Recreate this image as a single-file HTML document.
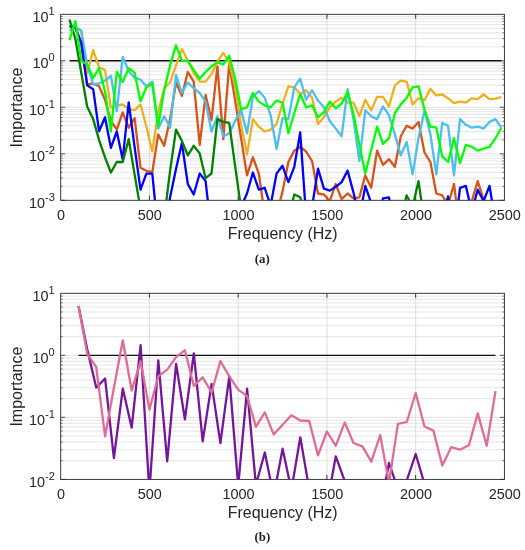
<!DOCTYPE html>
<html lang="en"><head><meta charset="utf-8"><title>Importance vs Frequency</title>
<style>html,body{margin:0;padding:0;background:#fff}svg{display:block}</style></head>
<body>
<svg width="525" height="550" viewBox="0 0 525 550" style="display:block">
<rect width="525" height="550" fill="#fff"/>
<defs><clipPath id="ca"><rect x="60.7" y="14.3" width="443.7" height="186.0"/></clipPath><clipPath id="cb"><rect x="60.7" y="293.3" width="443.7" height="186.1"/></clipPath></defs>
<g font-family="Liberation Sans, Arial, Helvetica, sans-serif">
<line x1="60.7" x2="504.4" y1="46.80" y2="46.80" stroke="#e2e2e2" stroke-width="0.9"/>
<line x1="60.7" x2="504.4" y1="38.61" y2="38.61" stroke="#e2e2e2" stroke-width="0.9"/>
<line x1="60.7" x2="504.4" y1="32.80" y2="32.80" stroke="#e2e2e2" stroke-width="0.9"/>
<line x1="60.7" x2="504.4" y1="28.30" y2="28.30" stroke="#e2e2e2" stroke-width="0.9"/>
<line x1="60.7" x2="504.4" y1="24.62" y2="24.62" stroke="#e2e2e2" stroke-width="0.9"/>
<line x1="60.7" x2="504.4" y1="21.50" y2="21.50" stroke="#e2e2e2" stroke-width="0.9"/>
<line x1="60.7" x2="504.4" y1="18.81" y2="18.81" stroke="#e2e2e2" stroke-width="0.9"/>
<line x1="60.7" x2="504.4" y1="16.43" y2="16.43" stroke="#e2e2e2" stroke-width="0.9"/>
<line x1="60.7" x2="504.4" y1="93.30" y2="93.30" stroke="#e2e2e2" stroke-width="0.9"/>
<line x1="60.7" x2="504.4" y1="85.11" y2="85.11" stroke="#e2e2e2" stroke-width="0.9"/>
<line x1="60.7" x2="504.4" y1="79.30" y2="79.30" stroke="#e2e2e2" stroke-width="0.9"/>
<line x1="60.7" x2="504.4" y1="74.80" y2="74.80" stroke="#e2e2e2" stroke-width="0.9"/>
<line x1="60.7" x2="504.4" y1="71.12" y2="71.12" stroke="#e2e2e2" stroke-width="0.9"/>
<line x1="60.7" x2="504.4" y1="68.00" y2="68.00" stroke="#e2e2e2" stroke-width="0.9"/>
<line x1="60.7" x2="504.4" y1="65.31" y2="65.31" stroke="#e2e2e2" stroke-width="0.9"/>
<line x1="60.7" x2="504.4" y1="62.93" y2="62.93" stroke="#e2e2e2" stroke-width="0.9"/>
<line x1="60.7" x2="504.4" y1="139.80" y2="139.80" stroke="#e2e2e2" stroke-width="0.9"/>
<line x1="60.7" x2="504.4" y1="131.61" y2="131.61" stroke="#e2e2e2" stroke-width="0.9"/>
<line x1="60.7" x2="504.4" y1="125.80" y2="125.80" stroke="#e2e2e2" stroke-width="0.9"/>
<line x1="60.7" x2="504.4" y1="121.30" y2="121.30" stroke="#e2e2e2" stroke-width="0.9"/>
<line x1="60.7" x2="504.4" y1="117.62" y2="117.62" stroke="#e2e2e2" stroke-width="0.9"/>
<line x1="60.7" x2="504.4" y1="114.50" y2="114.50" stroke="#e2e2e2" stroke-width="0.9"/>
<line x1="60.7" x2="504.4" y1="111.81" y2="111.81" stroke="#e2e2e2" stroke-width="0.9"/>
<line x1="60.7" x2="504.4" y1="109.43" y2="109.43" stroke="#e2e2e2" stroke-width="0.9"/>
<line x1="60.7" x2="504.4" y1="186.30" y2="186.30" stroke="#e2e2e2" stroke-width="0.9"/>
<line x1="60.7" x2="504.4" y1="178.11" y2="178.11" stroke="#e2e2e2" stroke-width="0.9"/>
<line x1="60.7" x2="504.4" y1="172.30" y2="172.30" stroke="#e2e2e2" stroke-width="0.9"/>
<line x1="60.7" x2="504.4" y1="167.80" y2="167.80" stroke="#e2e2e2" stroke-width="0.9"/>
<line x1="60.7" x2="504.4" y1="164.12" y2="164.12" stroke="#e2e2e2" stroke-width="0.9"/>
<line x1="60.7" x2="504.4" y1="161.00" y2="161.00" stroke="#e2e2e2" stroke-width="0.9"/>
<line x1="60.7" x2="504.4" y1="158.31" y2="158.31" stroke="#e2e2e2" stroke-width="0.9"/>
<line x1="60.7" x2="504.4" y1="155.93" y2="155.93" stroke="#e2e2e2" stroke-width="0.9"/>
<line x1="60.7" x2="504.4" y1="60.80" y2="60.80" stroke="#dcdcdc" stroke-width="0.9"/>
<line x1="60.7" x2="504.4" y1="107.30" y2="107.30" stroke="#dcdcdc" stroke-width="0.9"/>
<line x1="60.7" x2="504.4" y1="153.80" y2="153.80" stroke="#dcdcdc" stroke-width="0.9"/>
<line x1="149.44" x2="149.44" y1="14.3" y2="200.3" stroke="#d9d9d9" stroke-width="0.9"/>
<line x1="238.18" x2="238.18" y1="14.3" y2="200.3" stroke="#d9d9d9" stroke-width="0.9"/>
<line x1="326.92" x2="326.92" y1="14.3" y2="200.3" stroke="#d9d9d9" stroke-width="0.9"/>
<line x1="415.66" x2="415.66" y1="14.3" y2="200.3" stroke="#d9d9d9" stroke-width="0.9"/>
<rect x="60.7" y="14.3" width="443.7" height="186.0" fill="none" stroke="#262626" stroke-width="0.9"/>
<line x1="149.44" x2="149.44" y1="14.3" y2="18.8" stroke="#262626" stroke-width="0.9"/>
<line x1="149.44" x2="149.44" y1="200.3" y2="195.8" stroke="#262626" stroke-width="0.9"/>
<line x1="238.18" x2="238.18" y1="14.3" y2="18.8" stroke="#262626" stroke-width="0.9"/>
<line x1="238.18" x2="238.18" y1="200.3" y2="195.8" stroke="#262626" stroke-width="0.9"/>
<line x1="326.92" x2="326.92" y1="14.3" y2="18.8" stroke="#262626" stroke-width="0.9"/>
<line x1="326.92" x2="326.92" y1="200.3" y2="195.8" stroke="#262626" stroke-width="0.9"/>
<line x1="415.66" x2="415.66" y1="14.3" y2="18.8" stroke="#262626" stroke-width="0.9"/>
<line x1="415.66" x2="415.66" y1="200.3" y2="195.8" stroke="#262626" stroke-width="0.9"/>
<line x1="60.7" x2="65.2" y1="60.80" y2="60.80" stroke="#262626" stroke-width="0.75"/>
<line x1="504.4" x2="499.9" y1="60.80" y2="60.80" stroke="#262626" stroke-width="0.75"/>
<line x1="60.7" x2="62.6" y1="46.80" y2="46.80" stroke="#4a4a4a" stroke-width="0.75"/>
<line x1="504.4" x2="502.5" y1="46.80" y2="46.80" stroke="#4a4a4a" stroke-width="0.75"/>
<line x1="60.7" x2="62.6" y1="38.61" y2="38.61" stroke="#4a4a4a" stroke-width="0.75"/>
<line x1="504.4" x2="502.5" y1="38.61" y2="38.61" stroke="#4a4a4a" stroke-width="0.75"/>
<line x1="60.7" x2="62.6" y1="32.80" y2="32.80" stroke="#4a4a4a" stroke-width="0.75"/>
<line x1="504.4" x2="502.5" y1="32.80" y2="32.80" stroke="#4a4a4a" stroke-width="0.75"/>
<line x1="60.7" x2="62.6" y1="28.30" y2="28.30" stroke="#4a4a4a" stroke-width="0.75"/>
<line x1="504.4" x2="502.5" y1="28.30" y2="28.30" stroke="#4a4a4a" stroke-width="0.75"/>
<line x1="60.7" x2="62.6" y1="24.62" y2="24.62" stroke="#4a4a4a" stroke-width="0.75"/>
<line x1="504.4" x2="502.5" y1="24.62" y2="24.62" stroke="#4a4a4a" stroke-width="0.75"/>
<line x1="60.7" x2="62.6" y1="21.50" y2="21.50" stroke="#4a4a4a" stroke-width="0.75"/>
<line x1="504.4" x2="502.5" y1="21.50" y2="21.50" stroke="#4a4a4a" stroke-width="0.75"/>
<line x1="60.7" x2="62.6" y1="18.81" y2="18.81" stroke="#4a4a4a" stroke-width="0.75"/>
<line x1="504.4" x2="502.5" y1="18.81" y2="18.81" stroke="#4a4a4a" stroke-width="0.75"/>
<line x1="60.7" x2="62.6" y1="16.43" y2="16.43" stroke="#4a4a4a" stroke-width="0.75"/>
<line x1="504.4" x2="502.5" y1="16.43" y2="16.43" stroke="#4a4a4a" stroke-width="0.75"/>
<line x1="60.7" x2="65.2" y1="107.30" y2="107.30" stroke="#262626" stroke-width="0.75"/>
<line x1="504.4" x2="499.9" y1="107.30" y2="107.30" stroke="#262626" stroke-width="0.75"/>
<line x1="60.7" x2="62.6" y1="93.30" y2="93.30" stroke="#4a4a4a" stroke-width="0.75"/>
<line x1="504.4" x2="502.5" y1="93.30" y2="93.30" stroke="#4a4a4a" stroke-width="0.75"/>
<line x1="60.7" x2="62.6" y1="85.11" y2="85.11" stroke="#4a4a4a" stroke-width="0.75"/>
<line x1="504.4" x2="502.5" y1="85.11" y2="85.11" stroke="#4a4a4a" stroke-width="0.75"/>
<line x1="60.7" x2="62.6" y1="79.30" y2="79.30" stroke="#4a4a4a" stroke-width="0.75"/>
<line x1="504.4" x2="502.5" y1="79.30" y2="79.30" stroke="#4a4a4a" stroke-width="0.75"/>
<line x1="60.7" x2="62.6" y1="74.80" y2="74.80" stroke="#4a4a4a" stroke-width="0.75"/>
<line x1="504.4" x2="502.5" y1="74.80" y2="74.80" stroke="#4a4a4a" stroke-width="0.75"/>
<line x1="60.7" x2="62.6" y1="71.12" y2="71.12" stroke="#4a4a4a" stroke-width="0.75"/>
<line x1="504.4" x2="502.5" y1="71.12" y2="71.12" stroke="#4a4a4a" stroke-width="0.75"/>
<line x1="60.7" x2="62.6" y1="68.00" y2="68.00" stroke="#4a4a4a" stroke-width="0.75"/>
<line x1="504.4" x2="502.5" y1="68.00" y2="68.00" stroke="#4a4a4a" stroke-width="0.75"/>
<line x1="60.7" x2="62.6" y1="65.31" y2="65.31" stroke="#4a4a4a" stroke-width="0.75"/>
<line x1="504.4" x2="502.5" y1="65.31" y2="65.31" stroke="#4a4a4a" stroke-width="0.75"/>
<line x1="60.7" x2="62.6" y1="62.93" y2="62.93" stroke="#4a4a4a" stroke-width="0.75"/>
<line x1="504.4" x2="502.5" y1="62.93" y2="62.93" stroke="#4a4a4a" stroke-width="0.75"/>
<line x1="60.7" x2="65.2" y1="153.80" y2="153.80" stroke="#262626" stroke-width="0.75"/>
<line x1="504.4" x2="499.9" y1="153.80" y2="153.80" stroke="#262626" stroke-width="0.75"/>
<line x1="60.7" x2="62.6" y1="139.80" y2="139.80" stroke="#4a4a4a" stroke-width="0.75"/>
<line x1="504.4" x2="502.5" y1="139.80" y2="139.80" stroke="#4a4a4a" stroke-width="0.75"/>
<line x1="60.7" x2="62.6" y1="131.61" y2="131.61" stroke="#4a4a4a" stroke-width="0.75"/>
<line x1="504.4" x2="502.5" y1="131.61" y2="131.61" stroke="#4a4a4a" stroke-width="0.75"/>
<line x1="60.7" x2="62.6" y1="125.80" y2="125.80" stroke="#4a4a4a" stroke-width="0.75"/>
<line x1="504.4" x2="502.5" y1="125.80" y2="125.80" stroke="#4a4a4a" stroke-width="0.75"/>
<line x1="60.7" x2="62.6" y1="121.30" y2="121.30" stroke="#4a4a4a" stroke-width="0.75"/>
<line x1="504.4" x2="502.5" y1="121.30" y2="121.30" stroke="#4a4a4a" stroke-width="0.75"/>
<line x1="60.7" x2="62.6" y1="117.62" y2="117.62" stroke="#4a4a4a" stroke-width="0.75"/>
<line x1="504.4" x2="502.5" y1="117.62" y2="117.62" stroke="#4a4a4a" stroke-width="0.75"/>
<line x1="60.7" x2="62.6" y1="114.50" y2="114.50" stroke="#4a4a4a" stroke-width="0.75"/>
<line x1="504.4" x2="502.5" y1="114.50" y2="114.50" stroke="#4a4a4a" stroke-width="0.75"/>
<line x1="60.7" x2="62.6" y1="111.81" y2="111.81" stroke="#4a4a4a" stroke-width="0.75"/>
<line x1="504.4" x2="502.5" y1="111.81" y2="111.81" stroke="#4a4a4a" stroke-width="0.75"/>
<line x1="60.7" x2="62.6" y1="109.43" y2="109.43" stroke="#4a4a4a" stroke-width="0.75"/>
<line x1="504.4" x2="502.5" y1="109.43" y2="109.43" stroke="#4a4a4a" stroke-width="0.75"/>
<line x1="60.7" x2="65.2" y1="200.30" y2="200.30" stroke="#262626" stroke-width="0.75"/>
<line x1="504.4" x2="499.9" y1="200.30" y2="200.30" stroke="#262626" stroke-width="0.75"/>
<line x1="60.7" x2="62.6" y1="186.30" y2="186.30" stroke="#4a4a4a" stroke-width="0.75"/>
<line x1="504.4" x2="502.5" y1="186.30" y2="186.30" stroke="#4a4a4a" stroke-width="0.75"/>
<line x1="60.7" x2="62.6" y1="178.11" y2="178.11" stroke="#4a4a4a" stroke-width="0.75"/>
<line x1="504.4" x2="502.5" y1="178.11" y2="178.11" stroke="#4a4a4a" stroke-width="0.75"/>
<line x1="60.7" x2="62.6" y1="172.30" y2="172.30" stroke="#4a4a4a" stroke-width="0.75"/>
<line x1="504.4" x2="502.5" y1="172.30" y2="172.30" stroke="#4a4a4a" stroke-width="0.75"/>
<line x1="60.7" x2="62.6" y1="167.80" y2="167.80" stroke="#4a4a4a" stroke-width="0.75"/>
<line x1="504.4" x2="502.5" y1="167.80" y2="167.80" stroke="#4a4a4a" stroke-width="0.75"/>
<line x1="60.7" x2="62.6" y1="164.12" y2="164.12" stroke="#4a4a4a" stroke-width="0.75"/>
<line x1="504.4" x2="502.5" y1="164.12" y2="164.12" stroke="#4a4a4a" stroke-width="0.75"/>
<line x1="60.7" x2="62.6" y1="161.00" y2="161.00" stroke="#4a4a4a" stroke-width="0.75"/>
<line x1="504.4" x2="502.5" y1="161.00" y2="161.00" stroke="#4a4a4a" stroke-width="0.75"/>
<line x1="60.7" x2="62.6" y1="158.31" y2="158.31" stroke="#4a4a4a" stroke-width="0.75"/>
<line x1="504.4" x2="502.5" y1="158.31" y2="158.31" stroke="#4a4a4a" stroke-width="0.75"/>
<line x1="60.7" x2="62.6" y1="155.93" y2="155.93" stroke="#4a4a4a" stroke-width="0.75"/>
<line x1="504.4" x2="502.5" y1="155.93" y2="155.93" stroke="#4a4a4a" stroke-width="0.75"/>
<text x="54.6" y="21.60" text-anchor="end" font-size="14.45" fill="#262626">10<tspan dy="-7.1" font-size="11">1</tspan></text>
<text x="54.6" y="68.10" text-anchor="end" font-size="14.45" fill="#262626">10<tspan dy="-7.1" font-size="11">0</tspan></text>
<text x="54.9" y="114.60" text-anchor="end" font-size="14.45" fill="#262626">10<tspan dy="-7.1" font-size="11.2">-1</tspan></text>
<text x="54.9" y="161.10" text-anchor="end" font-size="14.45" fill="#262626">10<tspan dy="-7.1" font-size="11.2">-2</tspan></text>
<text x="54.9" y="207.60" text-anchor="end" font-size="14.45" fill="#262626">10<tspan dy="-7.1" font-size="11.2">-3</tspan></text>
<text x="61.0" y="219.7" text-anchor="middle" font-size="14.45" fill="#262626">0</text>
<text x="149.7" y="219.7" text-anchor="middle" font-size="14.45" fill="#262626">500</text>
<text x="238.5" y="219.7" text-anchor="middle" font-size="14.45" fill="#262626">1000</text>
<text x="327.2" y="219.7" text-anchor="middle" font-size="14.45" fill="#262626">1500</text>
<text x="416.0" y="219.7" text-anchor="middle" font-size="14.45" fill="#262626">2000</text>
<text x="504.7" y="219.7" text-anchor="middle" font-size="14.45" fill="#262626">2500</text>
<text x="227.8" y="238.8" textLength="109.8" lengthAdjust="spacingAndGlyphs" font-size="15.9" fill="#262626">Frequency (Hz)</text>
<text transform="translate(21.9,147.5) rotate(-90)" textLength="80" lengthAdjust="spacingAndGlyphs" font-size="15.9" fill="#262626">Importance</text>
<g clip-path="url(#ca)" fill="none" stroke-linejoin="round" stroke-linecap="butt" stroke-width="2.30">
<line x1="69.5" x2="501.4" y1="60.80" y2="60.80" stroke="#111" stroke-width="1.4"/>
<polyline stroke="#d95319" points="69.5,26.1 75.4,27.5 81.3,43.0 87.2,84.5 93.2,83.5 99.1,86.3 105.0,99.7 110.9,121.0 116.8,129.6 122.7,112.4 128.7,127.7 134.6,118.1 140.5,167.7 146.4,170.8 152.3,172.2 158.2,134.4 164.2,145.8 170.1,119.1 176.0,82.5 181.9,95.9 187.8,72.0 193.7,81.6 199.7,144.8 205.6,94.9 211.5,120.0 217.4,66.3 223.3,139.1 229.2,64.4 235.1,100.0 241.1,138.2 247.0,175.4 252.9,157.3 258.8,173.5 264.7,214.5 270.6,222.1 276.6,214.5 282.5,191.6 288.4,162.0 294.3,150.6 300.2,146.8 306.1,151.5 312.1,161.1 318.0,193.5 323.9,194.5 329.8,201.1 335.7,184.0 341.6,199.2 347.6,193.5 353.5,198.3 359.4,197.3 365.3,175.4 371.2,187.8 377.1,150.6 383.0,164.9 389.0,159.2 394.9,166.8 400.8,136.3 406.7,125.8 412.6,128.6 418.5,121.9 424.5,152.5 430.4,162.0 436.3,193.5 442.2,195.4 448.1,205.0 454.0,184.0 460.0,232.0 465.9,252.7 471.8,201.0 477.7,181.1 483.6,199.5 489.5,215.0 495.5,252.7 501.4,252.7"/>
<polyline stroke="#edb120" points="69.5,30.7 75.4,27.3 81.3,31.2 87.2,73.3 93.2,50.1 99.1,67.3 105.0,70.1 110.9,107.5 116.8,105.5 122.7,104.5 128.7,109.2 134.6,110.2 140.5,104.5 146.4,126.7 152.3,151.5 158.2,112.0 164.2,88.0 170.1,82.5 176.0,65.3 181.9,49.1 187.8,60.6 193.7,73.0 199.7,81.6 205.6,81.6 211.5,73.9 217.4,61.5 223.3,52.9 229.2,62.5 235.1,86.3 241.1,124.8 247.0,154.4 252.9,119.1 258.8,126.7 264.7,131.5 270.6,129.6 276.6,123.9 282.5,103.8 288.4,86.3 294.3,87.3 300.2,94.0 306.1,90.2 312.1,97.8 318.0,123.9 323.9,117.2 329.8,107.3 335.7,101.6 341.6,97.8 347.6,102.6 353.5,102.6 359.4,116.2 365.3,99.7 371.2,110.2 377.1,96.8 383.0,96.8 389.0,106.4 394.9,85.4 400.8,80.6 406.7,81.6 412.6,104.5 418.5,98.3 424.5,100.2 430.4,88.7 436.3,95.4 442.2,94.5 448.1,98.3 454.0,103.1 460.0,101.7 465.9,102.5 471.8,98.3 477.7,99.2 483.6,94.5 489.5,99.2 495.5,98.7 501.4,97.0"/>
<polyline stroke="#4dbeee" points="69.5,30.7 75.4,27.3 81.3,30.6 87.2,65.0 93.2,84.4 99.1,83.5 105.0,80.6 110.9,75.8 116.8,111.2 122.7,56.8 128.7,71.1 134.6,77.7 140.5,79.7 146.4,86.3 152.3,81.6 158.2,128.6 164.2,116.2 170.1,127.7 176.0,74.9 181.9,93.0 187.8,82.5 193.7,88.2 199.7,93.0 205.6,101.6 211.5,131.5 217.4,116.2 223.3,136.3 229.2,133.4 235.1,121.0 241.1,109.9 247.0,133.4 252.9,96.8 258.8,91.1 264.7,97.8 270.6,115.3 276.6,149.0 282.5,118.1 288.4,119.1 294.3,87.3 300.2,78.7 306.1,99.7 312.1,90.2 318.0,100.6 323.9,107.3 329.8,121.0 335.7,128.6 341.6,136.3 347.6,89.2 353.5,119.1 359.4,161.1 365.3,110.2 371.2,116.2 377.1,119.1 383.0,106.4 389.0,115.3 394.9,134.4 400.8,155.3 406.7,142.0 412.6,174.4 418.5,138.2 424.5,110.5 430.4,134.4 436.3,174.4 442.2,122.9 448.1,125.8 454.0,175.4 460.0,119.1 465.9,124.8 471.8,127.7 477.7,126.7 483.6,128.6 489.5,121.9 495.5,119.1 501.4,127.7"/>
<polyline stroke="#0000ff" points="69.5,26.1 75.4,27.5 81.3,43.0 87.2,85.4 93.2,89.2 99.1,131.3 105.0,117.2 110.9,147.8 116.8,131.5 122.7,159.5 128.7,102.3 134.6,146.8 140.5,189.7 146.4,173.6 152.3,173.6 158.2,233.6 164.2,233.6 170.1,197.3 176.0,169.1 181.9,142.9 187.8,184.0 193.7,194.5 199.7,173.5 205.6,181.1 211.5,233.6 217.4,252.7 223.3,252.7 229.2,252.7 235.1,233.6 241.1,206.9 247.0,193.5 252.9,172.5 258.8,189.7 264.7,187.8 270.6,205.5 276.6,173.5 282.5,165.8 288.4,182.1 294.3,166.8 300.2,132.4 306.1,216.4 312.1,206.9 318.0,168.7 323.9,188.7 329.8,190.6 335.7,186.8 341.6,182.1 347.6,170.6 353.5,192.6 359.4,218.3 365.3,185.9 371.2,203.1 377.1,240.0 383.0,198.3 389.0,197.3 394.9,240.0 400.8,252.7 406.7,252.7 412.6,252.7 418.5,252.7 424.5,252.7 430.4,252.7 436.3,252.7 442.2,218.3 448.1,196.4 454.0,240.0 460.0,187.8 465.9,185.9 471.8,212.0 477.7,189.7 483.6,201.1 489.5,185.9 495.5,222.1 501.4,252.7"/>
<polyline stroke="#008000" points="69.5,19.6 75.4,39.0 81.3,73.0 87.2,106.7 93.2,119.1 99.1,140.1 105.0,157.3 110.9,172.5 116.8,162.0 122.7,162.0 128.7,139.1 134.6,174.4 140.5,209.0 146.4,252.7 152.3,252.7 158.2,252.7 164.2,218.3 170.1,170.6 176.0,129.6 181.9,141.0 187.8,155.3 193.7,145.8 199.7,153.4 205.6,178.2 211.5,173.5 217.4,119.1 223.3,121.9 229.2,122.9 235.1,165.8 241.1,208.8 247.0,252.7 252.9,252.7 258.8,252.7 264.7,252.7 270.6,252.7 276.6,252.7 282.5,252.7 288.4,218.3 294.3,194.5 300.2,197.3 306.1,218.3 312.1,252.7 318.0,252.7 323.9,252.7 329.8,252.7 335.7,252.7 341.6,252.7 347.6,252.7 353.5,252.7 359.4,252.7 365.3,252.7 371.2,252.7 377.1,252.7 383.0,252.7 389.0,252.7 394.9,252.7 400.8,218.3 406.7,195.4 412.6,206.9 418.5,181.1 424.5,222.1 430.4,252.7 436.3,252.7 442.2,252.7 448.1,252.7 454.0,252.7 460.0,252.7 465.9,252.7 471.8,252.7 477.7,252.7 483.6,252.7 489.5,252.7 495.5,252.7 501.4,252.7"/>
<polyline stroke="#00ff00" points="69.5,40.2 75.4,21.1 81.3,60.8 87.2,64.6 93.2,78.0 99.1,68.0 105.0,91.5 110.9,131.5 116.8,72.0 122.7,82.1 128.7,68.2 134.6,72.6 140.5,101.2 146.4,87.3 152.3,83.5 158.2,125.8 164.2,90.2 170.1,65.3 176.0,45.3 181.9,60.6 187.8,60.6 193.7,70.1 199.7,78.7 205.6,72.0 211.5,66.3 217.4,62.5 223.3,64.4 229.2,55.8 235.1,78.7 241.1,109.2 247.0,107.3 252.9,93.0 258.8,101.6 264.7,105.4 270.6,107.3 276.6,100.6 282.5,102.6 288.4,133.2 294.3,113.0 300.2,94.0 306.1,107.3 312.1,105.4 318.0,117.2 323.9,112.4 329.8,101.6 335.7,108.3 341.6,103.5 347.6,92.1 353.5,114.3 359.4,144.8 365.3,173.5 371.2,150.0 377.1,126.7 383.0,143.9 389.0,138.2 394.9,113.0 400.8,104.6 406.7,97.8 412.6,87.3 418.5,86.3 424.5,109.5 430.4,126.7 436.3,127.7 442.2,156.3 448.1,162.0 454.0,138.2 460.0,163.0 465.9,144.8 471.8,146.8 477.7,150.6 483.6,148.7 489.5,146.8 495.5,138.2 501.4,127.7"/>
</g>
<line x1="60.7" x2="504.4" y1="336.66" y2="336.66" stroke="#e2e2e2" stroke-width="0.9"/>
<line x1="60.7" x2="504.4" y1="325.74" y2="325.74" stroke="#e2e2e2" stroke-width="0.9"/>
<line x1="60.7" x2="504.4" y1="317.99" y2="317.99" stroke="#e2e2e2" stroke-width="0.9"/>
<line x1="60.7" x2="504.4" y1="311.97" y2="311.97" stroke="#e2e2e2" stroke-width="0.9"/>
<line x1="60.7" x2="504.4" y1="307.06" y2="307.06" stroke="#e2e2e2" stroke-width="0.9"/>
<line x1="60.7" x2="504.4" y1="302.91" y2="302.91" stroke="#e2e2e2" stroke-width="0.9"/>
<line x1="60.7" x2="504.4" y1="299.31" y2="299.31" stroke="#e2e2e2" stroke-width="0.9"/>
<line x1="60.7" x2="504.4" y1="296.14" y2="296.14" stroke="#e2e2e2" stroke-width="0.9"/>
<line x1="60.7" x2="504.4" y1="398.69" y2="398.69" stroke="#e2e2e2" stroke-width="0.9"/>
<line x1="60.7" x2="504.4" y1="387.77" y2="387.77" stroke="#e2e2e2" stroke-width="0.9"/>
<line x1="60.7" x2="504.4" y1="380.02" y2="380.02" stroke="#e2e2e2" stroke-width="0.9"/>
<line x1="60.7" x2="504.4" y1="374.01" y2="374.01" stroke="#e2e2e2" stroke-width="0.9"/>
<line x1="60.7" x2="504.4" y1="369.10" y2="369.10" stroke="#e2e2e2" stroke-width="0.9"/>
<line x1="60.7" x2="504.4" y1="364.94" y2="364.94" stroke="#e2e2e2" stroke-width="0.9"/>
<line x1="60.7" x2="504.4" y1="361.34" y2="361.34" stroke="#e2e2e2" stroke-width="0.9"/>
<line x1="60.7" x2="504.4" y1="358.17" y2="358.17" stroke="#e2e2e2" stroke-width="0.9"/>
<line x1="60.7" x2="504.4" y1="460.73" y2="460.73" stroke="#e2e2e2" stroke-width="0.9"/>
<line x1="60.7" x2="504.4" y1="449.80" y2="449.80" stroke="#e2e2e2" stroke-width="0.9"/>
<line x1="60.7" x2="504.4" y1="442.05" y2="442.05" stroke="#e2e2e2" stroke-width="0.9"/>
<line x1="60.7" x2="504.4" y1="436.04" y2="436.04" stroke="#e2e2e2" stroke-width="0.9"/>
<line x1="60.7" x2="504.4" y1="431.13" y2="431.13" stroke="#e2e2e2" stroke-width="0.9"/>
<line x1="60.7" x2="504.4" y1="426.98" y2="426.98" stroke="#e2e2e2" stroke-width="0.9"/>
<line x1="60.7" x2="504.4" y1="423.38" y2="423.38" stroke="#e2e2e2" stroke-width="0.9"/>
<line x1="60.7" x2="504.4" y1="420.21" y2="420.21" stroke="#e2e2e2" stroke-width="0.9"/>
<line x1="60.7" x2="504.4" y1="355.33" y2="355.33" stroke="#dcdcdc" stroke-width="0.9"/>
<line x1="60.7" x2="504.4" y1="417.37" y2="417.37" stroke="#dcdcdc" stroke-width="0.9"/>
<line x1="149.44" x2="149.44" y1="293.3" y2="479.4" stroke="#d9d9d9" stroke-width="0.9"/>
<line x1="238.18" x2="238.18" y1="293.3" y2="479.4" stroke="#d9d9d9" stroke-width="0.9"/>
<line x1="326.92" x2="326.92" y1="293.3" y2="479.4" stroke="#d9d9d9" stroke-width="0.9"/>
<line x1="415.66" x2="415.66" y1="293.3" y2="479.4" stroke="#d9d9d9" stroke-width="0.9"/>
<rect x="60.7" y="293.3" width="443.7" height="186.1" fill="none" stroke="#262626" stroke-width="0.9"/>
<line x1="149.44" x2="149.44" y1="293.3" y2="297.8" stroke="#262626" stroke-width="0.9"/>
<line x1="149.44" x2="149.44" y1="479.4" y2="474.9" stroke="#262626" stroke-width="0.9"/>
<line x1="238.18" x2="238.18" y1="293.3" y2="297.8" stroke="#262626" stroke-width="0.9"/>
<line x1="238.18" x2="238.18" y1="479.4" y2="474.9" stroke="#262626" stroke-width="0.9"/>
<line x1="326.92" x2="326.92" y1="293.3" y2="297.8" stroke="#262626" stroke-width="0.9"/>
<line x1="326.92" x2="326.92" y1="479.4" y2="474.9" stroke="#262626" stroke-width="0.9"/>
<line x1="415.66" x2="415.66" y1="293.3" y2="297.8" stroke="#262626" stroke-width="0.9"/>
<line x1="415.66" x2="415.66" y1="479.4" y2="474.9" stroke="#262626" stroke-width="0.9"/>
<line x1="60.7" x2="65.2" y1="355.33" y2="355.33" stroke="#262626" stroke-width="0.75"/>
<line x1="504.4" x2="499.9" y1="355.33" y2="355.33" stroke="#262626" stroke-width="0.75"/>
<line x1="60.7" x2="62.6" y1="336.66" y2="336.66" stroke="#4a4a4a" stroke-width="0.75"/>
<line x1="504.4" x2="502.5" y1="336.66" y2="336.66" stroke="#4a4a4a" stroke-width="0.75"/>
<line x1="60.7" x2="62.6" y1="325.74" y2="325.74" stroke="#4a4a4a" stroke-width="0.75"/>
<line x1="504.4" x2="502.5" y1="325.74" y2="325.74" stroke="#4a4a4a" stroke-width="0.75"/>
<line x1="60.7" x2="62.6" y1="317.99" y2="317.99" stroke="#4a4a4a" stroke-width="0.75"/>
<line x1="504.4" x2="502.5" y1="317.99" y2="317.99" stroke="#4a4a4a" stroke-width="0.75"/>
<line x1="60.7" x2="62.6" y1="311.97" y2="311.97" stroke="#4a4a4a" stroke-width="0.75"/>
<line x1="504.4" x2="502.5" y1="311.97" y2="311.97" stroke="#4a4a4a" stroke-width="0.75"/>
<line x1="60.7" x2="62.6" y1="307.06" y2="307.06" stroke="#4a4a4a" stroke-width="0.75"/>
<line x1="504.4" x2="502.5" y1="307.06" y2="307.06" stroke="#4a4a4a" stroke-width="0.75"/>
<line x1="60.7" x2="62.6" y1="302.91" y2="302.91" stroke="#4a4a4a" stroke-width="0.75"/>
<line x1="504.4" x2="502.5" y1="302.91" y2="302.91" stroke="#4a4a4a" stroke-width="0.75"/>
<line x1="60.7" x2="62.6" y1="299.31" y2="299.31" stroke="#4a4a4a" stroke-width="0.75"/>
<line x1="504.4" x2="502.5" y1="299.31" y2="299.31" stroke="#4a4a4a" stroke-width="0.75"/>
<line x1="60.7" x2="62.6" y1="296.14" y2="296.14" stroke="#4a4a4a" stroke-width="0.75"/>
<line x1="504.4" x2="502.5" y1="296.14" y2="296.14" stroke="#4a4a4a" stroke-width="0.75"/>
<line x1="60.7" x2="65.2" y1="417.37" y2="417.37" stroke="#262626" stroke-width="0.75"/>
<line x1="504.4" x2="499.9" y1="417.37" y2="417.37" stroke="#262626" stroke-width="0.75"/>
<line x1="60.7" x2="62.6" y1="398.69" y2="398.69" stroke="#4a4a4a" stroke-width="0.75"/>
<line x1="504.4" x2="502.5" y1="398.69" y2="398.69" stroke="#4a4a4a" stroke-width="0.75"/>
<line x1="60.7" x2="62.6" y1="387.77" y2="387.77" stroke="#4a4a4a" stroke-width="0.75"/>
<line x1="504.4" x2="502.5" y1="387.77" y2="387.77" stroke="#4a4a4a" stroke-width="0.75"/>
<line x1="60.7" x2="62.6" y1="380.02" y2="380.02" stroke="#4a4a4a" stroke-width="0.75"/>
<line x1="504.4" x2="502.5" y1="380.02" y2="380.02" stroke="#4a4a4a" stroke-width="0.75"/>
<line x1="60.7" x2="62.6" y1="374.01" y2="374.01" stroke="#4a4a4a" stroke-width="0.75"/>
<line x1="504.4" x2="502.5" y1="374.01" y2="374.01" stroke="#4a4a4a" stroke-width="0.75"/>
<line x1="60.7" x2="62.6" y1="369.10" y2="369.10" stroke="#4a4a4a" stroke-width="0.75"/>
<line x1="504.4" x2="502.5" y1="369.10" y2="369.10" stroke="#4a4a4a" stroke-width="0.75"/>
<line x1="60.7" x2="62.6" y1="364.94" y2="364.94" stroke="#4a4a4a" stroke-width="0.75"/>
<line x1="504.4" x2="502.5" y1="364.94" y2="364.94" stroke="#4a4a4a" stroke-width="0.75"/>
<line x1="60.7" x2="62.6" y1="361.34" y2="361.34" stroke="#4a4a4a" stroke-width="0.75"/>
<line x1="504.4" x2="502.5" y1="361.34" y2="361.34" stroke="#4a4a4a" stroke-width="0.75"/>
<line x1="60.7" x2="62.6" y1="358.17" y2="358.17" stroke="#4a4a4a" stroke-width="0.75"/>
<line x1="504.4" x2="502.5" y1="358.17" y2="358.17" stroke="#4a4a4a" stroke-width="0.75"/>
<line x1="60.7" x2="65.2" y1="479.40" y2="479.40" stroke="#262626" stroke-width="0.75"/>
<line x1="504.4" x2="499.9" y1="479.40" y2="479.40" stroke="#262626" stroke-width="0.75"/>
<line x1="60.7" x2="62.6" y1="460.73" y2="460.73" stroke="#4a4a4a" stroke-width="0.75"/>
<line x1="504.4" x2="502.5" y1="460.73" y2="460.73" stroke="#4a4a4a" stroke-width="0.75"/>
<line x1="60.7" x2="62.6" y1="449.80" y2="449.80" stroke="#4a4a4a" stroke-width="0.75"/>
<line x1="504.4" x2="502.5" y1="449.80" y2="449.80" stroke="#4a4a4a" stroke-width="0.75"/>
<line x1="60.7" x2="62.6" y1="442.05" y2="442.05" stroke="#4a4a4a" stroke-width="0.75"/>
<line x1="504.4" x2="502.5" y1="442.05" y2="442.05" stroke="#4a4a4a" stroke-width="0.75"/>
<line x1="60.7" x2="62.6" y1="436.04" y2="436.04" stroke="#4a4a4a" stroke-width="0.75"/>
<line x1="504.4" x2="502.5" y1="436.04" y2="436.04" stroke="#4a4a4a" stroke-width="0.75"/>
<line x1="60.7" x2="62.6" y1="431.13" y2="431.13" stroke="#4a4a4a" stroke-width="0.75"/>
<line x1="504.4" x2="502.5" y1="431.13" y2="431.13" stroke="#4a4a4a" stroke-width="0.75"/>
<line x1="60.7" x2="62.6" y1="426.98" y2="426.98" stroke="#4a4a4a" stroke-width="0.75"/>
<line x1="504.4" x2="502.5" y1="426.98" y2="426.98" stroke="#4a4a4a" stroke-width="0.75"/>
<line x1="60.7" x2="62.6" y1="423.38" y2="423.38" stroke="#4a4a4a" stroke-width="0.75"/>
<line x1="504.4" x2="502.5" y1="423.38" y2="423.38" stroke="#4a4a4a" stroke-width="0.75"/>
<line x1="60.7" x2="62.6" y1="420.21" y2="420.21" stroke="#4a4a4a" stroke-width="0.75"/>
<line x1="504.4" x2="502.5" y1="420.21" y2="420.21" stroke="#4a4a4a" stroke-width="0.75"/>
<text x="54.6" y="300.60" text-anchor="end" font-size="14.45" fill="#262626">10<tspan dy="-7.1" font-size="11">1</tspan></text>
<text x="54.6" y="362.63" text-anchor="end" font-size="14.45" fill="#262626">10<tspan dy="-7.1" font-size="11">0</tspan></text>
<text x="54.9" y="424.67" text-anchor="end" font-size="14.45" fill="#262626">10<tspan dy="-7.1" font-size="11.2">-1</tspan></text>
<text x="54.9" y="486.70" text-anchor="end" font-size="14.45" fill="#262626">10<tspan dy="-7.1" font-size="11.2">-2</tspan></text>
<text x="61.0" y="498.8" text-anchor="middle" font-size="14.45" fill="#262626">0</text>
<text x="149.7" y="498.8" text-anchor="middle" font-size="14.45" fill="#262626">500</text>
<text x="238.5" y="498.8" text-anchor="middle" font-size="14.45" fill="#262626">1000</text>
<text x="327.2" y="498.8" text-anchor="middle" font-size="14.45" fill="#262626">1500</text>
<text x="416.0" y="498.8" text-anchor="middle" font-size="14.45" fill="#262626">2000</text>
<text x="504.7" y="498.8" text-anchor="middle" font-size="14.45" fill="#262626">2500</text>
<text x="227.8" y="517.9" textLength="109.8" lengthAdjust="spacingAndGlyphs" font-size="15.9" fill="#262626">Frequency (Hz)</text>
<text transform="translate(21.9,426.6) rotate(-90)" textLength="80" lengthAdjust="spacingAndGlyphs" font-size="15.9" fill="#262626">Importance</text>
<g clip-path="url(#cb)" fill="none" stroke-linejoin="round" stroke-linecap="butt" stroke-width="2.30">
<line x1="78.5" x2="495.5" y1="355.33" y2="355.33" stroke="#111" stroke-width="1.4"/>
<polyline stroke="#74169b" points="78.5,306.0 87.3,349.5 96.2,387.6 105.1,378.5 113.9,458.2 122.8,388.6 131.7,427.7 140.6,345.1 149.4,492.0 158.3,360.5 167.2,461.3 176.1,363.9 184.9,419.3 193.8,353.4 202.7,441.3 211.6,383.9 220.4,443.2 229.3,376.3 238.2,486.0 247.1,388.6 255.9,485.0 264.8,452.5 273.7,496.0 282.6,448.7 291.4,490.0 300.3,437.3 309.2,489.0 318.0,520.0 326.9,505.0 335.8,456.3 344.7,481.0 353.5,510.0 362.4,540.0 371.3,540.0 380.2,510.0 389.0,463.0 397.9,489.0 406.8,480.3 415.7,454.0 424.5,484.0 433.4,540.0 442.3,540.0 451.2,540.0 460.0,540.0 468.9,540.0 477.8,540.0 486.7,540.0 495.5,540.0"/>
<polyline stroke="#de6c97" points="78.5,306.0 87.3,354.1 96.2,367.0 105.1,436.3 113.9,388.0 122.8,340.3 131.7,390.5 140.6,361.3 149.4,409.6 158.3,376.3 167.2,369.6 176.1,357.2 184.9,350.2 193.8,385.8 202.7,377.3 211.6,392.5 220.4,361.0 229.3,376.3 238.2,389.6 247.1,396.2 255.9,426.8 264.8,412.4 273.7,434.4 282.6,424.8 291.4,415.3 300.3,420.5 309.2,421.0 318.0,455.4 326.9,431.5 335.8,445.8 344.7,422.4 353.5,443.0 362.4,446.4 371.3,461.7 380.2,435.0 389.0,483.0 397.9,423.9 406.8,422.0 415.7,393.0 424.5,426.5 433.4,430.6 442.3,465.5 451.2,447.2 460.0,449.7 468.9,445.3 477.8,413.4 486.7,445.8 495.5,391.1"/>
</g>
</g>
<g font-family="Liberation Serif, Times New Roman, serif" font-weight="bold" font-size="12.8" fill="#222" text-anchor="middle">
<text x="262.2" y="263">(a)</text><text x="262.4" y="541.2">(b)</text></g>
</svg>
</body></html>
